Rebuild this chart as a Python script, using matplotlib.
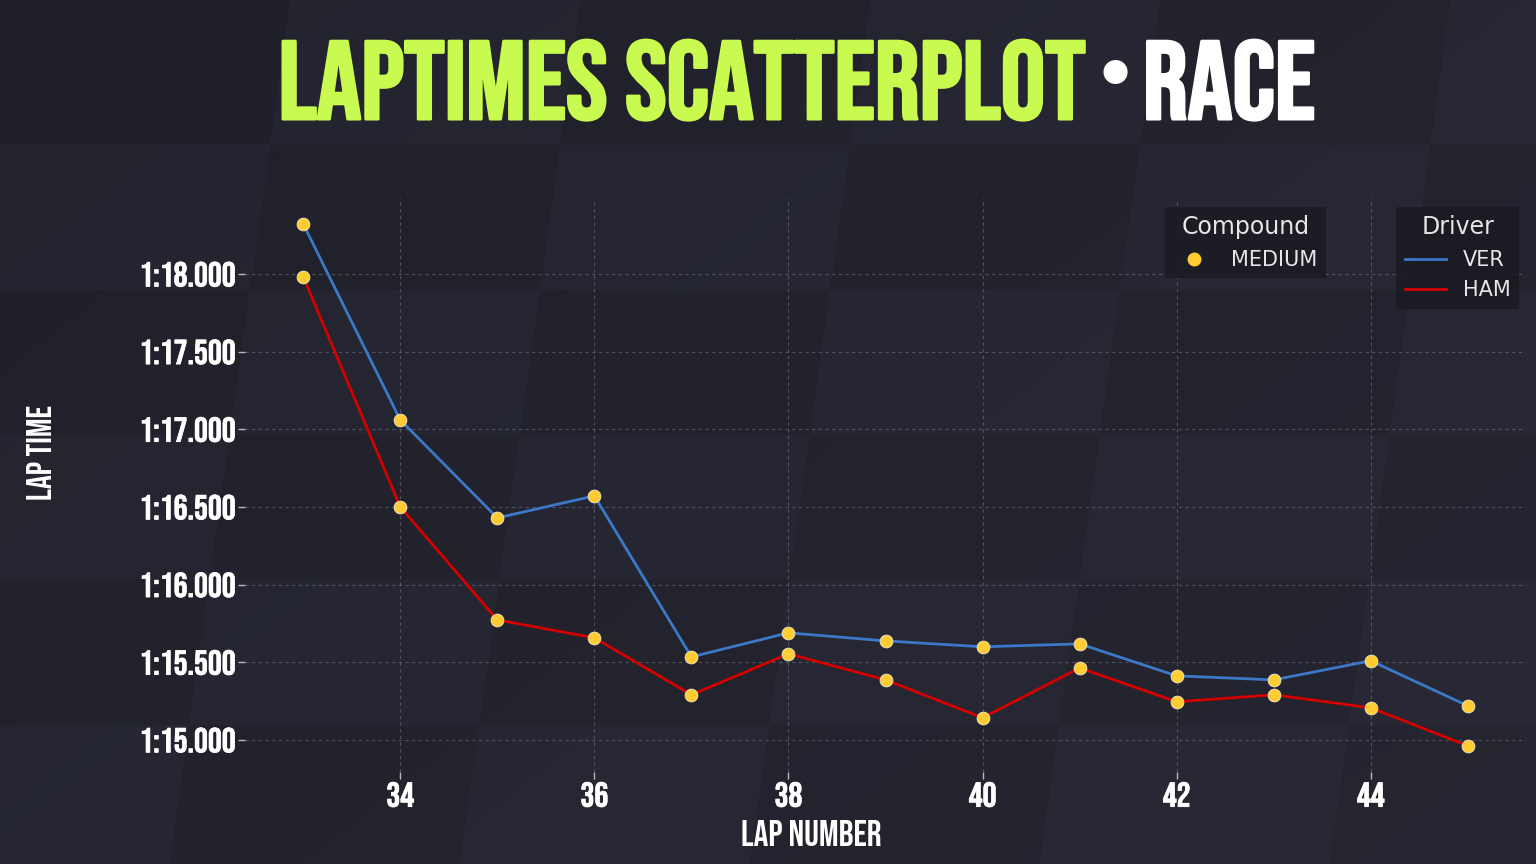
import numpy as np
import matplotlib
matplotlib.use("Agg")
from matplotlib import pyplot as plt
from matplotlib import patheffects as pe
from matplotlib.colors import LinearSegmentedColormap
from matplotlib.ticker import FuncFormatter, MultipleLocator
from matplotlib.lines import Line2D

# datos
vueltas = [33, 34, 35, 36, 37, 38, 39, 40, 41, 42, 43, 44, 45]
ver_tiempos = [78.322, 77.060, 76.429, 76.571, 75.534, 75.689, 75.637,
               75.599, 75.618, 75.412, 75.386, 75.509, 75.219]
ham_tiempos = [77.981, 76.500, 75.772, 75.657, 75.290, 75.554, 75.386,
               75.142, 75.463, 75.245, 75.290, 75.206, 74.961]
pilotos = ['VER', 'HAM']
colores_pilotos = ['#3b78c8', '#d40000']
compuesto = 'MEDIUM'

FONDO = '#23242f'
LIMA = '#c8fa50'
AMARILLO = '#ffcc33'
TITULAR = ['Bebas Neue', 'DejaVu Sans']


def formato_tiempo(v, pos):  # segundos -> m:ss.000
    m = int(v // 60)
    s = v - 60 * m
    return '{}:{:06.3f}'.format(m, s)


fig = plt.figure(figsize=(15.36, 8.64), dpi=100, facecolor=FONDO)

# fondo a cuadros inclinado (solo decorativo)
fondo = fig.add_axes([0, 0, 1, 1], zorder=-10)
fondo.axis('off')
yy, xx = np.mgrid[0:864, 0:1536]
u = (xx + 0.14 * yy) // 290
v = yy // 145
tablero = ((u + v) % 2) * 0.4 + (xx / 1536.0) * 0.35 + (yy / 864.0) * 0.25
fondo.imshow(tablero, cmap=LinearSegmentedColormap.from_list(
    'f', ['#1f2029', '#282935']), aspect='auto', extent=[0, 1, 1, 0])
fondo.set_xlim(0, 1)
fondo.set_ylim(1, 0)

ax = fig.add_axes([0.1595, 0.1065, 0.834, 0.6645])
ax.set_facecolor('none')
for sp in ax.spines.values():
    sp.set_visible(False)

for tiempos, col in zip([ver_tiempos, ham_tiempos], colores_pilotos):
    ax.plot(vueltas, tiempos, color=col, lw=2, zorder=2)
    ax.scatter(vueltas, tiempos, s=85, color=AMARILLO, edgecolors='#efe6c8',
               linewidths=0.6, zorder=3)

ax.xaxis.set_major_locator(MultipleLocator(2))
ax.yaxis.set_major_locator(MultipleLocator(0.5))
ax.yaxis.set_major_formatter(FuncFormatter(formato_tiempo))
ax.grid(True, color='#8a8a98', ls=(0, (3, 3)), lw=0.8, alpha=0.45)
ax.tick_params(colors='#b8b8c0', length=5, width=1, labelcolor='white',
               labelsize=25, pad=2)
grueso = [pe.withStroke(linewidth=0.5, foreground='white')]
for lab in ax.get_xticklabels() + ax.get_yticklabels():
    lab.set_fontfamily(TITULAR)
    lab.set_path_effects(grueso)

# leyendas
h_comp = [Line2D([], [], ls='none', marker='o', ms=9, color=AMARILLO)]
leg1 = ax.legend(h_comp, [compuesto], title='Compound', loc='upper right',
                 bbox_to_anchor=(0.8439, 0.984), borderaxespad=0,
                 fontsize=15, title_fontsize=17, facecolor='#1b1b23',
                 edgecolor='none', framealpha=0.9, labelcolor='#e6e6e6',
                 fancybox=False)
leg1.get_title().set_color('#e6e6e6')
ax.add_artist(leg1)
h_piloto = [Line2D([], [], color=c, lw=2) for c in colores_pilotos]
leg2 = ax.legend(h_piloto, pilotos, title='Driver', loc='upper right',
                 bbox_to_anchor=(0.9945, 0.984), borderaxespad=0,
                 fontsize=15, title_fontsize=17, facecolor='#1b1b23',
                 edgecolor='none', framealpha=0.9, labelcolor='#e6e6e6',
                 fancybox=False)
leg2.get_title().set_color('#e6e6e6')

fig.text(40 / 1536, 1 - 452 / 864, 'LAP TIME', rotation=90, color='white',
         fontsize=25, fontfamily=TITULAR, ha='center', va='center')
fig.text(811 / 1536, 1 - 833 / 864, 'LAP NUMBER', color='white',
         fontsize=26.5, fontfamily=TITULAR, ha='center', va='center')

# titulo en tres piezas (dos colores)
y_base = 1 - 119 / 864
fig.text(1085 / 1536, y_base, 'LAPTIMES SCATTERPLOT', color=LIMA,
         fontsize=80, fontfamily=TITULAR, ha='right', va='baseline',
         path_effects=[pe.withStroke(linewidth=2.2, foreground=LIMA)])
fig.text(1115 / 1536, 1 - 80 / 864, '•', color='white',
         fontsize=60, fontfamily='DejaVu Sans', ha='center', va='center')
fig.text(1143 / 1536, y_base, 'RACE', color='white',
         fontsize=80, fontfamily=TITULAR, ha='left', va='baseline',
         path_effects=[pe.withStroke(linewidth=2.2, foreground='white')])

fig.savefig('out.png', dpi=100, facecolor=FONDO)
